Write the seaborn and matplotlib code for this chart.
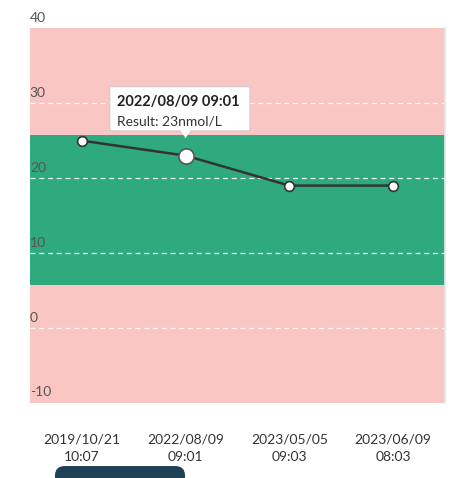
import matplotlib
matplotlib.use("Agg")
import matplotlib.pyplot as plt
import matplotlib.transforms as mtransforms
from matplotlib.patches import FancyBboxPatch, Polygon
import seaborn as sns
import pandas as pd

dates = ["2019/10/21\n10:07", "2022/08/09\n09:01", "2023/05/05\n09:03", "2023/06/09\n08:03"]
results = [25, 23, 19, 19]
normal_low, normal_high = 5.7, 25.8
y_ticks = [-10, 0, 10, 20, 30, 40]

df = pd.DataFrame({"pos": range(len(dates)), "result": results})

sns.set_theme(style="white")
plt.rcParams["font.family"] = ["Lato", "DejaVu Sans"]

fig = plt.figure(figsize=(4.74, 4.78), dpi=100)
ax = fig.add_axes([0.063, 0.157, 0.876, 0.784])
ax.set_xlim(-0.5, 3.5)
ax.set_ylim(-10, 40)

ax.axhspan(-10, normal_low, color="#f9c6c3", lw=0)
ax.axhspan(normal_high, 40, color="#f9c6c3", lw=0)
ax.axhspan(normal_low, normal_high, color="#2eaa7e", lw=0)
for y in [0, 10, 20, 30]:
    ax.axhline(y, color="white", lw=0.9, ls=(0, (4, 3)), alpha=0.9)

sns.lineplot(data=df, x="pos", y="result", ax=ax, color="#333333", lw=1.8,
             marker="o", markersize=7, markerfacecolor="white",
             markeredgecolor="#333333", markeredgewidth=1.2)
ax.plot(1, results[1], "o", ms=11, mfc="white", mec="#555555", mew=1.2, zorder=5)

trans = mtransforms.blended_transform_factory(ax.transAxes, ax.transData)
for y in y_ticks:
    ax.text(0.0, y + 0.6, str(y), transform=trans, fontsize=10,
            color="#555555", ha="left", va="bottom")

ax.set_xticks(range(len(dates)))
ax.set_xticklabels(dates, fontsize=10, color="#333333", linespacing=1.5)
ax.tick_params(axis="x", length=0, pad=22)
ax.set_yticks([])
ax.set_xlabel("")
ax.set_ylabel("")
for s in ["top", "left", "bottom"]:
    ax.spines[s].set_visible(False)
ax.spines["right"].set_color("#e6e6e6")

# tooltip
tip = FancyBboxPatch((0.27, 26.3), 1.35, 5.9, boxstyle="round,pad=0,rounding_size=0.05",
                     fc="white", ec="#cccccc", lw=0.8, zorder=6)
ax.add_patch(tip)
arrow = Polygon([(0.95, 26.4), (1.05, 26.4), (1.0, 25.3)], closed=True,
                fc="white", ec="none", zorder=7)
ax.add_patch(arrow)
ax.text(0.34, 30.1, "2022/08/09 09:01", fontsize=10.5, fontweight="bold",
        color="#222222", va="center", zorder=7)
ax.text(0.34, 27.6, "Result: 23nmol/L", fontsize=10, color="#333333",
        va="center", zorder=7)

# partial button at bottom
btn = FancyBboxPatch((55 / 474, -0.05), 130 / 474, 0.075,
                     boxstyle="round,pad=0,rounding_size=0.02",
                     transform=fig.transFigure, fc="#1f4156", ec="none")
fig.patches.append(btn)

fig.savefig("out.png", dpi=100)
